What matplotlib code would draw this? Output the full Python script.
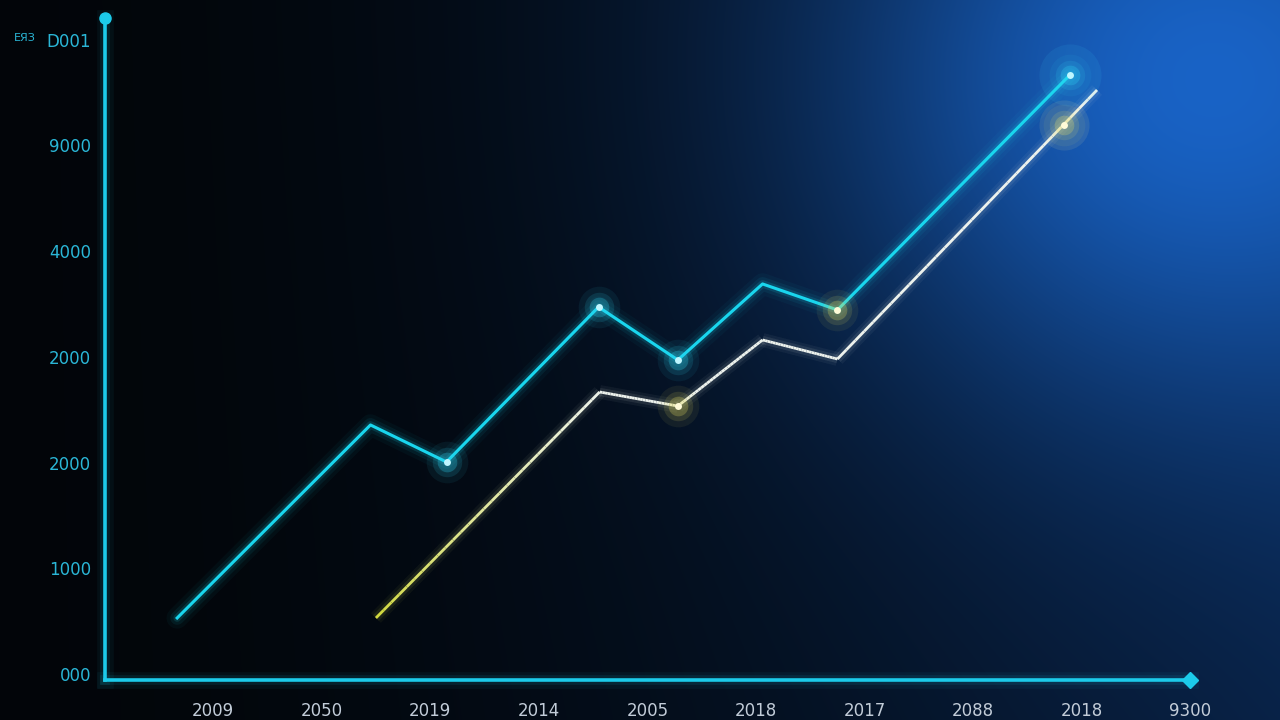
import numpy as np
import matplotlib
matplotlib.use("Agg")
import matplotlib.pyplot as plt
from matplotlib.collections import LineCollection

# ---------------- data ----------------
x_labels = ["2009", "2050", "2019", "2014", "2005", "2018", "2017", "2088", "2018", "9300"]
y_ticks = [0, 1000, 2000, 3000, 4000, 5000, 6000]
y_labels = ["000", "1000", "2000", "2000", "4000", "9000", "D001"]
corner_label = "ЕЯЗ"

cyan_x = [-0.33, 1.45, 2.15, 3.55, 4.28, 5.06, 5.75, 7.89]
cyan_y = [530, 2356, 2006, 3472, 2971, 3690, 3444, 5667]
white_x = [1.50, 3.56, 4.28, 5.06, 5.75, 8.14]
white_y = [530, 2668, 2535, 3160, 2980, 5525]

# highlighted (glowing) points
cyan_glow_x = [2.15, 3.55, 4.28, 7.89]
cyan_glow_y = [2006, 3472, 2971, 5667]
yellow_glow_x = [5.75, 4.28, 7.84]
yellow_glow_y = [3444, 2535, 5194]

plt.rcParams["font.family"] = ["DejaVu Sans"]

W, H = 1280, 720
fig = plt.figure(figsize=(12.8, 7.2), dpi=100)

# ---------------- background ----------------
bg_ax = fig.add_axes([0, 0, 1, 1], zorder=-10)
yy, xx = np.mgrid[0:H, 0:W].astype(float)
u = xx / W
v = yy / H
dark = np.array([0.008, 0.022, 0.038])
navy = np.array([0.040, 0.165, 0.345])
t = np.clip(u, 0, 1) ** 1.8 * (1 - 0.25 * v)
img = dark[None, None, :] * (1 - t[..., None]) + navy[None, None, :] * t[..., None]
d = np.sqrt((xx - 1210) ** 2 + ((yy - 80) * 1.1) ** 2)
glow = np.exp(-(d / 360.0) ** 2)
glow_col = np.array([0.10, 0.40, 0.80])
img = img + glow[..., None] * (glow_col - img) * 0.95
img = np.clip(img, 0, 1)
bg_ax.imshow(img, extent=[0, W, H, 0], aspect="auto")
bg_ax.set_xlim(0, W)
bg_ax.set_ylim(H, 0)
bg_ax.axis("off")

# ---------------- main axes ----------------
ax = fig.add_axes([105 / W, 40 / H, 1090 / W, 662 / H])
ax.set_facecolor("none")
ax.set_xlim(-0.9945, 9.042)
ax.set_ylim(-56.8, 6206)

axis_col = "#1ccbea"
for s in ["top", "right"]:
    ax.spines[s].set_visible(False)
for s in ["left", "bottom"]:
    ax.spines[s].set_color(axis_col)
    ax.spines[s].set_linewidth(2.6)

for w, a in [(12, 0.05), (7, 0.09)]:
    ax.plot([-0.9945, -0.9945], [-56.8, 6206], color=axis_col, lw=w, alpha=a, clip_on=False)
    ax.plot([-0.9945, 9.0], [-56.8, -56.8], color=axis_col, lw=w, alpha=a, clip_on=False)
ax.plot([-0.9945], [6206], marker="o", ms=8, color=axis_col, clip_on=False)
ax.plot([9.0], [-56.8], marker="D", ms=8, color=axis_col, clip_on=False)

ax.set_yticks(y_ticks, y_labels)
ax.set_xticks(np.arange(len(x_labels)), x_labels)
ax.tick_params(axis="y", length=0, pad=10, labelcolor="#2ab6d6", labelsize=12)
ax.tick_params(axis="x", length=0, pad=16, labelcolor="#c2ccd8", labelsize=12)

fig.text(14 / W, 1 - 38 / H, corner_label, color="#2ab6d6", fontsize=8,
         ha="left", va="center")


def glow_line(xs, ys, color, lw):
    for w, a in [(lw * 7, 0.04), (lw * 4.5, 0.07), (lw * 2.5, 0.14)]:
        ax.plot(xs, ys, color=color, lw=w, alpha=a, solid_capstyle="round",
                solid_joinstyle="round")
    ax.plot(xs, ys, color=color, lw=lw, solid_joinstyle="round")


glow_line(cyan_x, cyan_y, "#19d6ee", 2.2)

# white line with yellow -> white gradient
segs, cols = [], []
c0 = np.array([0.82, 0.85, 0.25])
c1 = np.array([0.93, 0.95, 0.93])
xmin, xmax = white_x[0], white_x[1]
for i in range(len(white_x) - 1):
    xs = np.linspace(white_x[i], white_x[i + 1], 30)
    ys = np.linspace(white_y[i], white_y[i + 1], 30)
    for j in range(29):
        segs.append([(xs[j], ys[j]), (xs[j + 1], ys[j + 1])])
        f = np.clip((xs[j] - xmin) / (xmax - xmin), 0, 1) ** 0.8
        cols.append(tuple(c0 * (1 - f) + c1 * f))
for w, a in [(10, 0.05), (6, 0.09)]:
    ax.add_collection(LineCollection(segs, colors=cols, linewidths=w, alpha=a))
ax.add_collection(LineCollection(segs, colors=cols, linewidths=2.0))

# glowing points
for s, a in [(900, 0.07), (450, 0.13), (200, 0.25)]:
    ax.scatter(cyan_glow_x, cyan_glow_y, s=s, color="#2fd8f5", alpha=a, lw=0, zorder=5)
    ax.scatter(yellow_glow_x, yellow_glow_y, s=s, color="#e8e060", alpha=a, lw=0, zorder=5)
ax.scatter(cyan_glow_x, cyan_glow_y, s=25, color="#bff6ff", lw=0, zorder=6)
ax.scatter(yellow_glow_x, yellow_glow_y, s=25, color="#fffbd8", lw=0, zorder=6)
ax.scatter([cyan_x[-1]], [cyan_y[-1]], s=2000, color="#40d8ff", alpha=0.09, lw=0, zorder=5)
ax.scatter([yellow_glow_x[-1]], [yellow_glow_y[-1]], s=1300, color="#f0e8a0", alpha=0.10, lw=0, zorder=5)

fig.savefig("out.png", dpi=100)
